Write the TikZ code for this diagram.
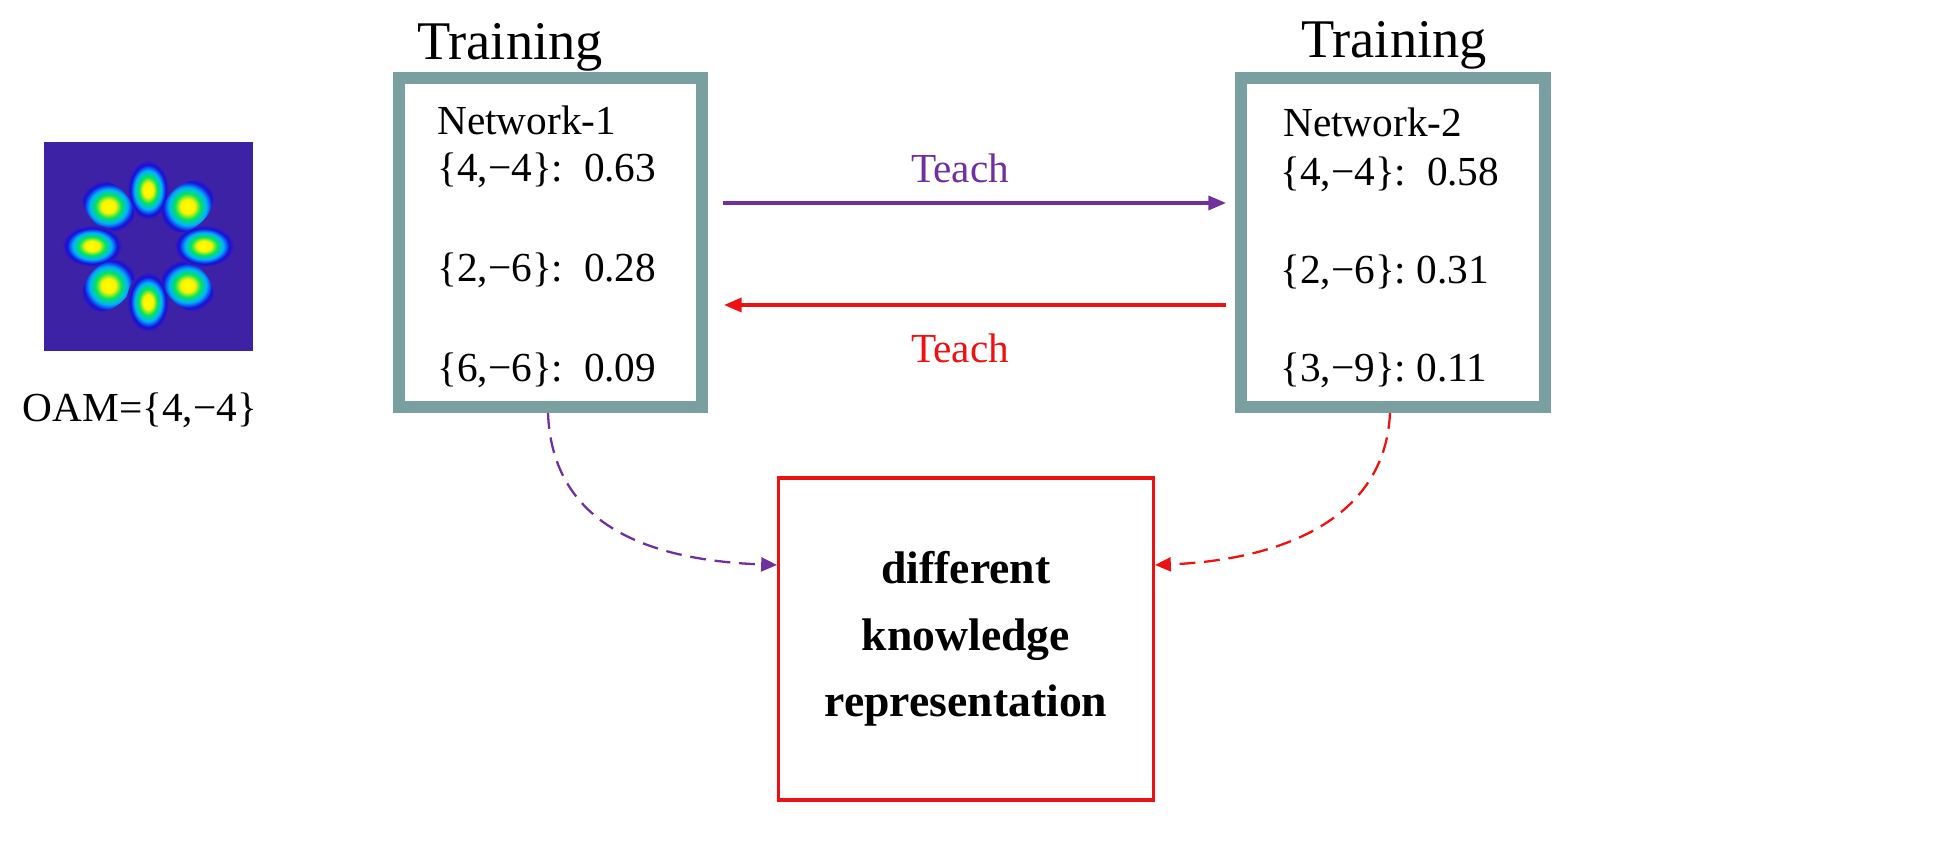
\documentclass[tikz,border=0pt]{standalone}
\usepackage{fontspec}
\setmainfont{Liberation Serif}
\usetikzlibrary{arrows.meta}
\definecolor{teal1}{HTML}{7A9FA0}
\definecolor{purp}{HTML}{7030A0}
\definecolor{bgb}{HTML}{3E22A6}
\definecolor{redd}{HTML}{EE1111}
\pgfdeclareradialshading{lobesh}{\pgfpoint{0bp}{0bp}}{color(0bp)=(yellow); color(6bp)=(yellow!90!orange); color(11bp)=(green!60!cyan!90!black); color(16bp)=(cyan!70!blue); color(21bp)=(blue!60!bgb); color(25bp)=(bgb); color(50bp)=(bgb)}
\begin{document}
\begin{tikzpicture}[x=0.02cm,y=-0.02cm,
  txt/.style={font=\fontsize{23.5}{28}\selectfont,inner sep=0pt},
  ttl/.style={font=\fontsize{31}{36}\selectfont,inner sep=0pt},
  netbox/.style={draw=teal1,line width=6.8pt}]
\useasboundingbox (0,0) rectangle (1936,854);
% OAM image
\fill[bgb] (44,142) rectangle (253,351);
\foreach \a in {0,45,...,315}{
  \shade[shading=lobesh, rotate around={\a:(148,246)}] (148,190) ellipse [x radius=21, y radius=30];
}
\node[txt] (oam) at (140,410) {OAM=\{4,−4\}};
% boxes
\node[netbox,minimum width=6.06cm,minimum height=6.58cm] (b1) at (550.5,242.5) {};
\node[netbox,minimum width=6.08cm,minimum height=6.58cm] (b2) at (1393,242.5) {};
\node[ttl] (t1) at (510,47) {Training};
\node[ttl] (t2) at (1394,45) {Training};
\node[txt,anchor=west] (n1) at (437,120) {Network-1};
\node[txt,anchor=west] (a1) at (437,170) {\{4,−4\}:\ \ 0.63};
\node[txt,anchor=west] (a2) at (437,270) {\{2,−6\}:\ \ 0.28};
\node[txt,anchor=west] (a3) at (437,370) {\{6,−6\}:\ \ 0.09};
\node[txt,anchor=west] (n2) at (1283,122) {Network-2};
\node[txt,anchor=west] (c1) at (1280,174) {\{4,−4\}:\ \ 0.58};
\node[txt,anchor=west] (c2) at (1280,272) {\{2,−6\}:\ 0.31};
\node[txt,anchor=west] (c3) at (1280,370) {\{3,−9\}:\ 0.11};
% arrows
\coordinate (p1) at (723,203); \coordinate (p2) at (1226,203);
\draw[purp,line width=1.8pt,-{Triangle[length=10pt,width=8pt]}] (p1) -- (p2);
\node[txt,purp] (tp) at (960,168) {Teach};
\coordinate (r1) at (1226,305); \coordinate (r2) at (724,305);
\draw[redd,line width=1.8pt,-{Triangle[length=10pt,width=8pt]}] (r1) -- (r2);
\node[txt,redd] (tr) at (960,348) {Teach};
% result box
\node[draw=redd,line width=1.8pt,minimum width=7.5cm,minimum height=6.44cm,inner sep=0pt,
  align=center,font=\fontsize{26}{38}\selectfont\bfseries] (res) at (966,639)
  {different\\knowledge\\representation};
\coordinate (d1) at (548,413); \coordinate (e1) at (1390,413);
\draw[purp,line width=1.3pt,dash pattern=on 9pt off 5pt,-{Triangle[length=9pt,width=8pt]}]
  (d1) .. controls (552,520) and (640,560) .. (res.west|-0,565);
\draw[redd,line width=1.3pt,dash pattern=on 9pt off 5pt,-{Triangle[length=9pt,width=8pt]}]
  (e1) .. controls (1385,520) and (1280,560) .. (res.east|-0,565);
\end{tikzpicture}
\end{document}
